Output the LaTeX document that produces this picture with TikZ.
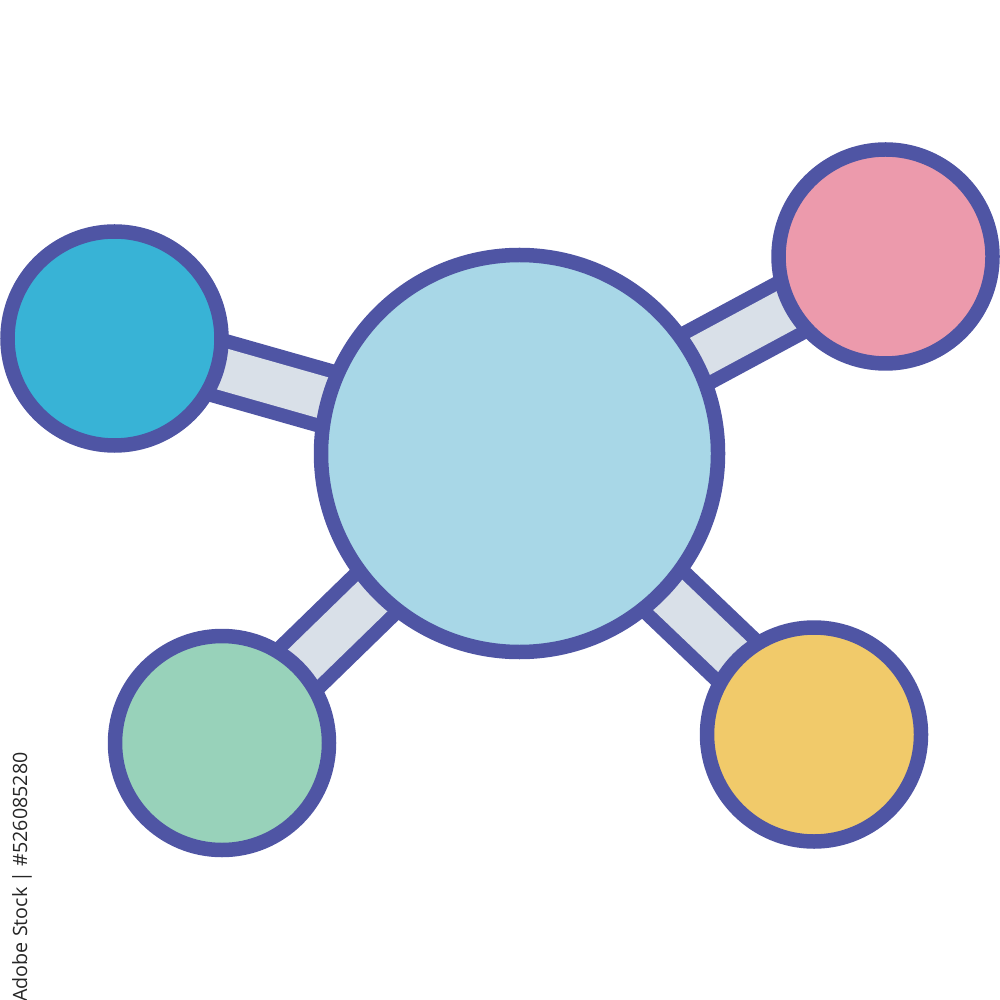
\documentclass[tikz,border=0pt]{standalone}
\usepackage{fontspec}
\usetikzlibrary{backgrounds}
\newfontfamily\stockFont{Open Sans}
\definecolor{rimBlue}{HTML}{4F55A4}
\definecolor{hubFill}{HTML}{A8D7E7}
\definecolor{barFill}{HTML}{D9E0E8}
\definecolor{skyFill}{HTML}{38B3D6}
\definecolor{roseFill}{HTML}{EC9AAC}
\definecolor{mintFill}{HTML}{98D2BA}
\definecolor{sandFill}{HTML}{F1CA6A}
\newcommand{\satellite}[4]{%%
  %% A small circle round the hub.
  \node[satStyle,fill=#4] (#1) at (#2,#3) {};
}
\newcommand{\spoke}[1]{%%
  \draw[barStyle] (hub.center) -- (#1.center);
}

\begin{document}
\begin{tikzpicture}[%%
  hubStyle/.style={circle,draw=rimBlue,line width=1.45mm,fill=hubFill,inner sep=0pt,minimum size=3.97cm},%%
  satStyle/.style={circle,draw=rimBlue,line width=1.45mm,inner sep=0pt,minimum size=2.14cm},%%
  barStyle/.style={draw=rimBlue,line width=1.4mm,double=barFill,double distance=4.2mm}
]
%%
%%
\useasboundingbox (0,0) rectangle (10,-10);
%% The hub in the middle.
\node[hubStyle] (hub) at (5.195,-4.535) {};
%% The four circles round it.
\satellite{sky}{1.145}{-3.385}{skyFill}
\satellite{rose}{8.855}{-2.565}{roseFill}
\satellite{mint}{2.22}{-7.43}{mintFill}
\satellite{sand}{8.14}{-7.345}{sandFill}
%% The bars behind the circles.
\begin{scope}[on background layer]
  \spoke{sky}
  \spoke{rose}
  \spoke{mint}
  \spoke{sand}
\end{scope}
%% The stock number along the left edge.
\node[rotate=90,text=black!85,font=\stockFont\fontsize{5.6}{6}\selectfont,inner sep=0pt] (stockid) at (0.22,-8.77) {Adobe Stock | \#526085280};
\end{tikzpicture}
\end{document}
